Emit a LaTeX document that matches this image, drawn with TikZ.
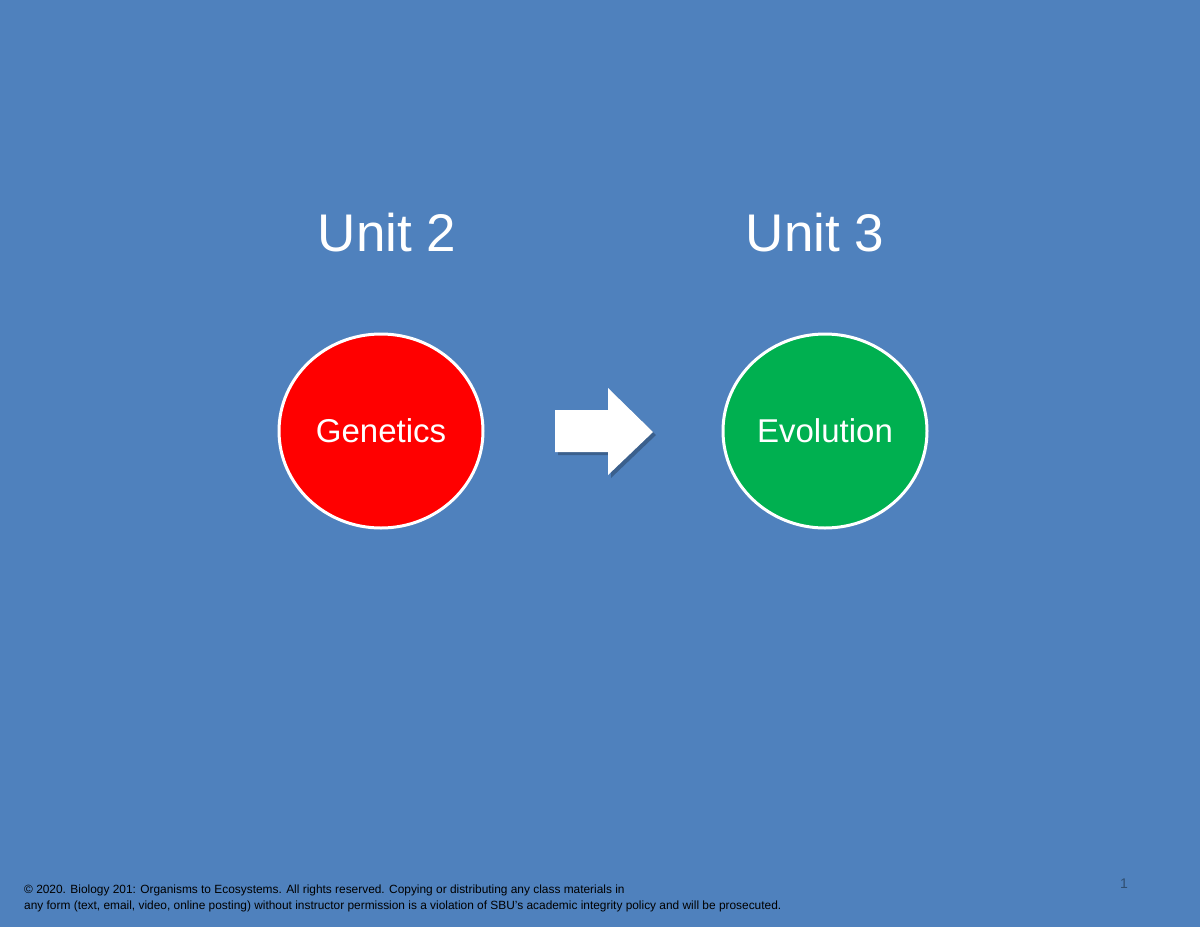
\documentclass[tikz,border=0pt]{standalone}
\usepackage{fontspec}
\setmainfont{Liberation Sans}
\usetikzlibrary{shapes.geometric}
\definecolor{bg}{HTML}{4F81BD}
\definecolor{gred}{HTML}{FF0000}
\definecolor{egreen}{HTML}{00B050}
\begin{document}
\begin{tikzpicture}[x=1pt,y=-1pt,
  unit/.style={text=white,font=\fontsize{53}{60}\selectfont},
  lab/.style={text=white,font=\fontsize{33}{38}\selectfont},
  foot/.style={anchor=west,text=black,font=\fontsize{11.9}{13}\selectfont,inner sep=0pt}]
\useasboundingbox (0,0) rectangle (1200,927);
\fill[bg] (0,0) rectangle (1200,927);
\node[unit] (u2) at (387,233) {Unit 2};
\node[unit] (u3) at (815,233) {Unit 3};
\fill[gred,draw=white,line width=3pt] (381,431) ellipse [x radius=102, y radius=97];
\node[lab] (gen) at (381,431) {Genetics};
\fill[egreen,draw=white,line width=3pt] (825,431) ellipse [x radius=102, y radius=97];
\node[lab] (evo) at (825,431) {Evolution};
\fill[black,opacity=0.25] (558,413) -- (611,413) -- (611,391) -- (656,435) -- (611,478) -- (611,455) -- (558,455) -- cycle;
\fill[white] (555,410) -- (608,410) -- (608,388) -- (653,432) -- (608,475) -- (608,452) -- (555,452) -- cycle;
\node[foot] (f1) at (24,890) {© 2020. Biology 201: Organisms to Ecosystems. All rights reserved. Copying or distributing any class materials in};
\node[foot] (f2) at (24,906) {any form (text, email, video, online posting) without instructor permission is a violation of SBU's academic integrity policy and will be prosecuted.};
\node[text=black!40!bg,font=\fontsize{14}{16}\selectfont] (pg) at (1124,884) {1};
\end{tikzpicture}
\end{document}
